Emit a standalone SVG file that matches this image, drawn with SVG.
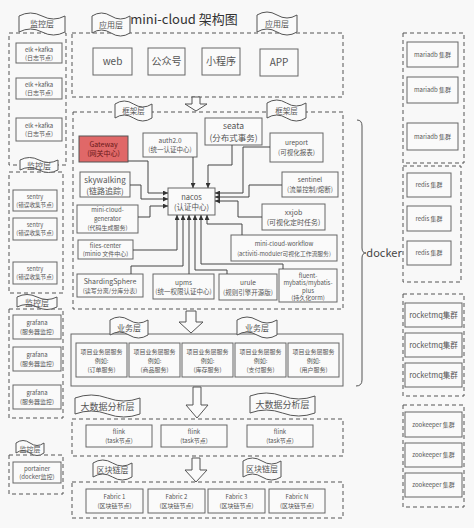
<svg xmlns="http://www.w3.org/2000/svg" width="474" height="528" viewBox="0 0 474 528">
<defs>
<style>
text{font-family:"Noto Sans CJK SC","Noto Sans",sans-serif;fill:#555;text-anchor:middle}
.box{fill:#fafafa;stroke:#666;stroke-width:1}
.dash{fill:none;stroke:#555;stroke-width:1;stroke-dasharray:4 3}
.ban{fill:#fafafa;stroke:#555;stroke-width:1}
.harrow{fill:#fafafa;stroke:#555;stroke-width:1}
.conn{fill:none;stroke:#444;stroke-width:1;marker-end:url(#ah)}
.t5{font-size:5.6px}.t6{font-size:6px}.t65{font-size:6.5px}.t7{font-size:7px}.t75{font-size:7.5px}.t8{font-size:8px}.t9{font-size:9px}.t10{font-size:10px}
</style>
<marker id="ah" viewBox="0 0 6 6" refX="6" refY="3" markerWidth="5" markerHeight="5" markerUnits="userSpaceOnUse" orient="auto"><path d="M0,0 L6,3 L0,6 Z" fill="#333"/></marker>
</defs>
<rect width="474" height="528" fill="#f8f8f8"/>
<text x="184" y="24" style="font-size:13px;fill:#333">mini-cloud 架构图</text>

<!-- dashed containers -->
<g id="containers">
<rect class="dash" x="9" y="33" width="57" height="132"/>
<rect class="dash" x="9" y="172" width="54" height="121"/>
<rect class="dash" x="9" y="309" width="54" height="109"/>
<rect class="dash" x="9" y="455" width="54" height="39"/>
<rect class="dash" x="72" y="33" width="271" height="64"/>
<rect class="dash" x="73" y="112" width="270" height="197"/>
<rect x="71" y="334" width="272" height="52" fill="none" stroke="#666"/>
<rect class="dash" x="72" y="419" width="271" height="37"/>
<rect class="dash" x="72" y="482" width="271" height="36"/>
<rect class="dash" x="403" y="33" width="61" height="130"/>
<rect class="dash" x="403" y="166" width="58" height="116"/>
<rect class="dash" x="403" y="294" width="61" height="102"/>
<rect class="dash" x="403" y="405" width="61" height="102"/>
</g>

<!-- banners -->
<g id="banners">
<g transform="translate(19,13)"><path class="ban" d="M0,3 q11.5,-6 23,0 t23,0 v16 q-11.5,6 -23,0 t-23,0 z"/><text x="23" y="14" class="t8">监控层</text></g>
<g transform="translate(92,13)"><path class="ban" d="M0,3 q9.5,-6 19,0 t19,0 v17 q-9.5,6 -19,0 t-19,0 z"/><text x="19" y="14.5" class="t8">应用层</text></g>
<g transform="translate(257,12)"><path class="ban" d="M0,3 q10,-6 20,0 t20,0 v17 q-10,6 -20,0 t-20,0 z"/><text x="20" y="14.5" class="t8">应用层</text></g>
<g transform="translate(115,101)"><path class="ban" d="M0,3 q9.25,-6 18.5,0 t18.5,0 v14 q-9.25,6 -18.5,0 t-18.5,0 z"/><text x="18.5" y="13" class="t75">框架层</text></g>
<g transform="translate(267,100)"><path class="ban" d="M0,3 q9.75,-6 19.5,0 t19.5,0 v15 q-9.75,6 -19.5,0 t-19.5,0 z"/><text x="19.5" y="13.5" class="t75">框架层</text></g>
<g transform="translate(20,157)"><path class="ban" d="M0,3 q9.5,-5 19,0 t19,0 v10 q-9.5,5 -19,0 t-19,0 z"/><text x="19" y="11.5" class="t8">监控层</text></g>
<g transform="translate(17,294)"><path class="ban" d="M0,3 q10,-5 20,0 t20,0 v10 q-10,5 -20,0 t-20,0 z"/><text x="20" y="11.5" class="t8">监控层</text></g>
<g transform="translate(16,440)"><path class="ban" d="M0,3 q7,-5 14,0 t14,0 v10 q-7,5 -14,0 t-14,0 z"/><text x="14" y="11.5" class="t7">监控层</text></g>
<g transform="translate(110,317)"><path class="ban" d="M0,3 q9.5,-6 19,0 t19,0 v15 q-9.5,6 -19,0 t-19,0 z"/><text x="19" y="13.5" class="t8">业务层</text></g>
<g transform="translate(237,317)"><path class="ban" d="M0,3 q10,-6 20,0 t20,0 v15 q-10,6 -20,0 t-20,0 z"/><text x="20" y="13.5" class="t8">业务层</text></g>
<g transform="translate(75,395)"><path class="ban" d="M0,3 q16.25,-6 32.5,0 t32.5,0 v16 q-16.25,6 -32.5,0 t-32.5,0 z"/><text x="32.5" y="14.5" class="t9">大数据分析层</text></g>
<g transform="translate(250,393)"><path class="ban" d="M0,3 q16.25,-6 32.5,0 t32.5,0 v17 q-16.25,6 -32.5,0 t-32.5,0 z"/><text x="32.5" y="15" class="t9">大数据分析层</text></g>
<g transform="translate(93,460)"><path class="ban" d="M0,3 q9.75,-6 19.5,0 t19.5,0 v14 q-9.75,6 -19.5,0 t-19.5,0 z"/><text x="19.5" y="13" class="t8">区块链层</text></g>
<g transform="translate(243,458)"><path class="ban" d="M0,3 q9.5,-6 19,0 t19,0 v16 q-9.5,6 -19,0 t-19,0 z"/><text x="19" y="14" class="t8">区块链层</text></g>
</g>

<!-- hollow layer arrows -->
<g id="layer-arrows">
<path class="harrow" d="M192,97 H200 V104 H207 L196,111 L185,104 H192 Z"/>
<path class="harrow" d="M186,311 H196 V322 H203 L191,333 L179,322 H186 Z"/>
<path class="harrow" d="M193,387 H201 V405 H208 L197,418 L186,405 H193 Z"/>
<path class="harrow" d="M192,458 H200 V470 H207 L196,482 L185,470 H192 Z"/>
</g>

<!-- left monitoring nodes -->
<g id="elk1"><rect class="box" x="16" y="43" width="46" height="20"/><text x="39" y="51.5" class="t6">elk +kafka</text><text x="39" y="59.5" class="t6">(日志节点)</text></g>
<g id="elk2"><rect class="box" x="16" y="78" width="46" height="21"/><text x="39" y="86.5" class="t6">elk +kafka</text><text x="39" y="95" class="t6">(日志节点)</text></g>
<g id="elk3"><rect class="box" x="16" y="118" width="46" height="23"/><text x="39" y="127.5" class="t6">elk +kafka</text><text x="39" y="136" class="t6">(日志节点)</text></g>
<g id="sentry1"><rect class="box" x="13" y="190" width="44" height="21"/><text x="35" y="198.5" class="t5">sentry</text><text x="35" y="206.5" class="t5">(错误收集节点)</text></g>
<g id="sentry2"><rect class="box" x="13" y="218" width="44" height="22"/><text x="35" y="227" class="t5">sentry</text><text x="35" y="235" class="t5">(错误收集节点)</text></g>
<g id="sentry3"><rect class="box" x="13" y="262" width="44" height="22"/><text x="35" y="271" class="t5">sentry</text><text x="35" y="279" class="t5">(错误收集节点)</text></g>
<g id="grafana1"><rect class="box" x="13" y="315" width="48" height="24"/><text x="37" y="325" class="t6">grafana</text><text x="37" y="334" class="t6">(服务器监控)</text></g>
<g id="grafana2"><rect class="box" x="13" y="347" width="48" height="24"/><text x="37" y="357" class="t6">grafana</text><text x="37" y="366" class="t6">(服务器监控)</text></g>
<g id="grafana3"><rect class="box" x="13" y="385" width="48" height="24"/><text x="37" y="395" class="t6">grafana</text><text x="37" y="404" class="t6">(服务器监控)</text></g>
<g id="portainer"><rect class="box" x="13" y="462" width="48" height="21"/><text x="37" y="470.5" class="t6">portainer</text><text x="37" y="479" class="t6">(docker监控)</text></g>

<!-- application layer -->
<g id="web"><rect class="box" x="93" y="48" width="39" height="27"/><text x="112.5" y="65" class="t10">web</text></g>
<g id="gzh"><rect class="box" x="148" y="48" width="37" height="27"/><text x="166.5" y="65" class="t10">公众号</text></g>
<g id="xcx"><rect class="box" x="202" y="48" width="38" height="27"/><text x="221" y="65" class="t10">小程序</text></g>
<g id="app"><rect class="box" x="260" y="49" width="38" height="27"/><text x="279" y="66" class="t10">APP</text></g>

<!-- framework layer -->
<g id="gateway"><rect x="79" y="136" width="49" height="26" fill="#e06868" stroke="#555"/><text x="103.5" y="147" class="t7" style="fill:#6a1818">Gateway</text><text x="103.5" y="156" class="t7" style="fill:#6a1818">(网关中心)</text></g>
<g id="auth"><rect class="box" x="143" y="133" width="54" height="24"/><text x="170" y="143" class="t65">auth2.0</text><text x="170" y="152" class="t65">(统一认证中心)</text></g>
<g id="seata"><rect class="box" x="205" y="118" width="57" height="27"/><text x="233.5" y="129" style="font-size:8.5px">seata</text><text x="233.5" y="141" style="font-size:8.5px">(分布式事务)</text></g>
<g id="ureport"><rect class="box" x="270" y="133" width="53" height="29"/><text x="296.5" y="145" class="t65">ureport</text><text x="296.5" y="155" class="t65">(可视化报表)</text></g>
<g id="skywalking"><rect class="box" x="80" y="172" width="50" height="25"/><text x="105" y="183" class="t8">skywalking</text><text x="105" y="193.5" class="t8">(链路追踪)</text></g>
<g id="nacos"><rect class="box" x="168" y="188" width="47" height="27"/><text x="191.5" y="200" class="t75">nacos</text><text x="191.5" y="210" class="t75">(认证中心)</text></g>
<g id="sentinel"><rect class="box" x="282" y="172" width="56" height="25"/><text x="310" y="182" class="t65">sentinel</text><text x="310" y="192" class="t65">(流量控制/熔断)</text></g>
<g id="generator"><rect class="box" x="77" y="205" width="61" height="28"/><text x="107.5" y="212" class="t6">mini-cloud-</text><text x="107.5" y="220.5" class="t6">generator</text><text x="107.5" y="229.5" class="t6">(代码生成服务)</text></g>
<g id="files-center"><rect class="box" x="78" y="240" width="55" height="19"/><text x="105.5" y="248" class="t6">files-center</text><text x="105.5" y="256" class="t6">(minio 文件中心)</text></g>
<g id="xxjob"><rect class="box" x="262" y="204" width="63" height="26"/><text x="293.5" y="215" class="t7">xxjob</text><text x="293.5" y="225" class="t7">(可视化定时任务)</text></g>
<g id="workflow"><rect class="box" x="231" y="235" width="106" height="26"/><text x="284" y="246" class="t6">mini-cloud-workflow</text><text x="284" y="256" style="font-size:5.8px">(activiti-moduler可视化工作流服务)</text></g>
<g id="sharding"><rect class="box" x="77" y="274" width="66" height="23"/><text x="110" y="284" class="t7">ShardingSphere</text><text x="110" y="293" class="t6">(读写分离/分库分表)</text></g>
<g id="upms"><rect class="box" x="153" y="274" width="61" height="25"/><text x="183.5" y="284.5" class="t65">upms</text><text x="183.5" y="294" class="t65">(统一权限认证中心)</text></g>
<g id="urule"><rect class="box" x="219" y="274" width="58" height="26"/><text x="248" y="285" class="t65">urule</text><text x="248" y="295" class="t65">(规则引擎开源版)</text></g>
<g id="fluent"><rect class="box" x="279" y="269" width="58" height="33"/><text x="308" y="277.5" class="t6">fluent-</text><text x="308" y="285" class="t6">mybatis/mybatis-</text><text x="308" y="292.5" class="t6">plus</text><text x="308" y="300" class="t6">(持久化orm)</text></g>

<!-- connectors -->
<g id="connectors">
<path class="conn" d="M128,161 H148 V193 H168"/>
<path class="conn" d="M193,157 V188"/>
<path class="conn" d="M130,185 H141 V199 H168"/>
<path class="conn" d="M138,217 H150 V206 H168"/>
<path class="conn" d="M232,145 V165 H208 V188"/>
<path class="conn" d="M270,147 H243 V193 H215"/>
<path class="conn" d="M282,185 H249 V197 H215"/>
<path class="conn" d="M262,217 H238 V201 H215"/>
<path class="conn" d="M133,250 H177 V215"/>
<path class="conn" d="M131,274 V266 H183 V215"/>
<path class="conn" d="M189,274 V215"/>
<path class="conn" d="M227,274 V270 H195 V215"/>
<path class="conn" d="M283,269 V264 H201 V215"/>
<path class="conn" d="M242,235 V224 H207 V215"/>
</g>

<!-- business layer -->
<g id="biz1"><rect class="box" x="76" y="343" width="51" height="34"/><text x="101.5" y="354" class="t6">项目业务层服务</text><text x="101.5" y="363" class="t6">例如:</text><text x="101.5" y="372" class="t6">(订单服务)</text></g>
<g id="biz2"><rect class="box" x="129" y="343" width="51" height="34"/><text x="154.5" y="354" class="t6">项目业务层服务</text><text x="154.5" y="363" class="t6">例如:</text><text x="154.5" y="372" class="t6">(商品服务)</text></g>
<g id="biz3"><rect class="box" x="182" y="343" width="51" height="34"/><text x="207.5" y="354" class="t6">项目业务层服务</text><text x="207.5" y="363" class="t6">例如:</text><text x="207.5" y="372" class="t6">(库存服务)</text></g>
<g id="biz4"><rect class="box" x="235" y="343" width="51" height="34"/><text x="260.5" y="354" class="t6">项目业务层服务</text><text x="260.5" y="363" class="t6">例如:</text><text x="260.5" y="372" class="t6">(支付服务)</text></g>
<g id="biz5"><rect class="box" x="288" y="343" width="51" height="34"/><text x="313.5" y="354" class="t6">项目业务层服务</text><text x="313.5" y="363" class="t6">例如:</text><text x="313.5" y="372" class="t6">(用户服务)</text></g>

<!-- big data layer -->
<g id="flink1"><rect class="box" x="86" y="425" width="66" height="22"/><text x="119" y="434" class="t6">flink</text><text x="119" y="443" class="t6">(task节点)</text></g>
<g id="flink2"><rect class="box" x="161" y="425" width="66" height="22"/><text x="194" y="434" class="t6">flink</text><text x="194" y="443" class="t6">(task节点)</text></g>
<g id="flink3"><rect class="box" x="247" y="425" width="66" height="22"/><text x="280" y="434" class="t6">flink</text><text x="280" y="443" class="t6">(task节点)</text></g>

<!-- blockchain layer -->
<g id="fabric1"><rect class="box" x="86" y="489" width="57" height="24"/><text x="114.5" y="498.5" class="t6">Fabric 1</text><text x="114.5" y="508" class="t6">(区块链节点)</text></g>
<g id="fabric2"><rect class="box" x="148" y="489" width="57" height="24"/><text x="176.5" y="498.5" class="t6">Fabric 2</text><text x="176.5" y="508" class="t6">(区块链节点)</text></g>
<g id="fabric3"><rect class="box" x="208" y="489" width="57" height="24"/><text x="236.5" y="498.5" class="t6">Fabric 3</text><text x="236.5" y="508" class="t6">(区块链节点)</text></g>
<g id="fabricN"><rect class="box" x="269" y="489" width="56" height="24"/><text x="297" y="498.5" class="t6">Fabric N</text><text x="297" y="508" class="t6">(区块链节点)</text></g>

<!-- docker brace -->
<g id="docker">
<path d="M357,120 Q362,120 362,126 L362,248 Q362,253 366,253 Q362,253 362,258 L362,380 Q362,386 356,386" fill="none" stroke="#555"/>
<text x="384" y="257" style="font-size:11px;fill:#444">docker</text>
</g>

<!-- right column -->
<g id="mariadb1"><rect class="box" x="407" y="42" width="51" height="25"/><text x="432.5" y="56.5" class="t6">mariadb 集群</text></g>
<g id="mariadb2"><rect class="box" x="407" y="77" width="51" height="26"/><text x="432.5" y="92" class="t6">mariadb 集群</text></g>
<g id="mariadb3"><rect class="box" x="407" y="123" width="51" height="27"/><text x="432.5" y="138.5" class="t6">mariadb 集群</text></g>
<g id="redis1"><rect class="box" x="407" y="173" width="44" height="24"/><text x="429" y="187" class="t6">redis 集群</text></g>
<g id="redis2"><rect class="box" x="407" y="206" width="44" height="25"/><text x="429" y="220.5" class="t6">redis 集群</text></g>
<g id="redis3"><rect class="box" x="407" y="241" width="44" height="24"/><text x="429" y="255" class="t6">redis 集群</text></g>
<g id="rocketmq1"><rect class="box" x="405" y="303" width="57" height="24"/><text x="433.5" y="317.5" class="t75">rocketmq集群</text></g>
<g id="rocketmq2"><rect class="box" x="405" y="333" width="57" height="24"/><text x="433.5" y="347.5" class="t75">rocketmq集群</text></g>
<g id="rocketmq3"><rect class="box" x="405" y="363" width="57" height="24"/><text x="433.5" y="377.5" class="t75">rocketmq集群</text></g>
<g id="zookeeper1"><rect class="box" x="405" y="412" width="57" height="25"/><text x="433.5" y="426.5" class="t6">zookeeper 集群</text></g>
<g id="zookeeper2"><rect class="box" x="405" y="443" width="57" height="24"/><text x="433.5" y="457" class="t6">zookeeper 集群</text></g>
<g id="zookeeper3"><rect class="box" x="405" y="473" width="57" height="24"/><text x="433.5" y="487" class="t6">zookeeper 集群</text></g>
</svg>
